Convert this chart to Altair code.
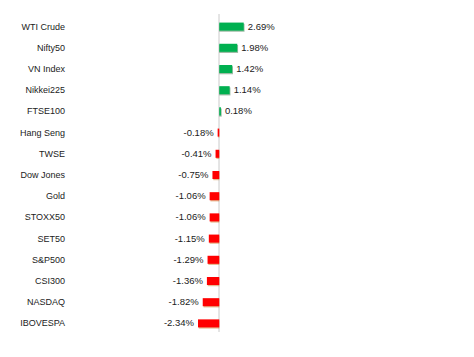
import altair as alt
import pandas as pd

names = ["WTI Crude", "Nifty50", "VN Index", "Nikkei225", "FTSE100", "Hang Seng", "TWSE",
         "Dow Jones", "Gold", "STOXX50", "SET50", "S&P500", "CSI300", "NASDAQ", "IBOVESPA"]
values = [2.69, 1.98, 1.42, 1.14, 0.18, -0.18, -0.41, -0.75, -1.06, -1.06, -1.15, -1.29, -1.36, -1.82, -2.34]

df = pd.DataFrame({"name": names, "value": values})
df["label"] = [f"{v:.2f}%" for v in values]
df["zero"] = 0.0
df["fill"] = ["#00b050" if v >= 0 else "#ff0000" for v in values]
df["shade"] = ["#2a6b3a" if v >= 0 else "#c86a10" for v in values]

y = alt.Y("name:N", sort=names, axis=None, scale=alt.Scale(paddingInner=0.62, paddingOuter=0.31))
xs = alt.Scale(domain=[-14, 26.7], nice=False, zero=False)
x = alt.X("value:Q", scale=xs, axis=None)

FONT = "Liberation Sans"

base = alt.Chart(df)

zero = base.mark_rule(color="#e4e4e4", strokeWidth=1).encode(
    x=alt.X("zero:Q", scale=xs, axis=None), y=alt.value(-2), y2=alt.value(316)
)

shadow = base.mark_bar(yOffset=1.2, xOffset=0.8, opacity=0.45).encode(
    x=x, x2="zero:Q", y=y, color=alt.Color("shade:N", scale=None)
)

bars = base.mark_bar().encode(
    x=x, x2="zero:Q", y=y, color=alt.Color("fill:N", scale=None)
)

pos_lbl = base.transform_filter("datum.value >= 0").mark_text(
    align="left", dx=4, fontSize=9.5, font=FONT, color="#1a1a1a"
).encode(x=x, y=y, text="label:N")

neg_lbl = base.transform_filter("datum.value < 0").mark_text(
    align="right", dx=-4, fontSize=9.5, font=FONT, color="#1a1a1a"
).encode(x=x, y=y, text="label:N")

names_lbl = base.mark_text(
    align="right", fontSize=9, font=FONT, color="#222222"
).encode(x=alt.value(-27), y=y, text="name:N")

chart = alt.layer(zero, shadow, bars, pos_lbl, neg_lbl, names_lbl).properties(
    width=370, height=318,
    autosize=alt.AutoSizeParams(type="none"),
    padding={"left": 84, "top": 8, "right": 4, "bottom": 4},
).configure_view(stroke=None)

chart.save("out.html", embed_options={"renderer": "svg", "actions": False})
